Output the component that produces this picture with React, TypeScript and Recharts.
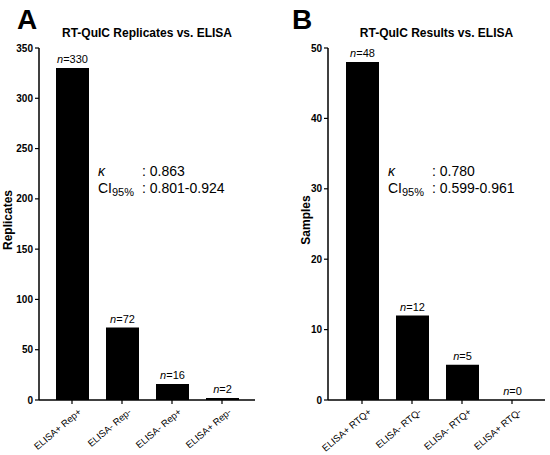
import React from "react";
import { BarChart, Bar, XAxis, YAxis, LabelList, Customized } from "recharts";

const categoriesA = ["ELISA+ Rep+", "ELISA- Rep-", "ELISA- Rep+", "ELISA+ Rep-"];
const replicates = [330, 72, 16, 2];
const ticksA = [0, 50, 100, 150, 200, 250, 300, 350];

const categoriesB = ["ELISA+ RTQ+", "ELISA- RTQ-", "ELISA- RTQ+", "ELISA+ RTQ-"];
const samples = [48, 12, 5, 0];
const ticksB = [0, 10, 20, 30, 40, 50];

const kappaA = "0.863";
const ciA = "0.801-0.924";
const kappaB = "0.780";
const ciB = "0.599-0.961";

const FONT = "'Liberation Sans', Arial, Helvetica, sans-serif";

const dataA = categoriesA.map((name, i) => ({ name, value: replicates[i] }));
const dataB = categoriesB.map((name, i) => ({ name, value: samples[i] }));

// rotated category labels, ending just under the tick
const XTick = (props: any) => {
  const { x, y, payload } = props;
  return (
    <g transform={`translate(${x + 10},${y + 7}) rotate(-40)`}>
      <text textAnchor="end" fontSize={9.5} fill="#000" fontFamily={FONT}>
        {payload.value}
      </text>
    </g>
  );
};

const NLabel = (props: any) => {
  const { x, y, width, value } = props;
  return (
    <text
      x={x + width / 2}
      y={y - 5}
      textAnchor="middle"
      fontSize={11}
      fill="#000"
      fontFamily={FONT}
    >
      <tspan fontStyle="italic">n</tspan>={value}
    </text>
  );
};

type PanelProps = {
  data: { name: string; value: number }[];
  ticks: number[];
  letter: string;
  title: string;
  yLabel: string;
  yLabelX: number;
  axisWidth: number;
  padLeft: number;
  padRight: number;
  marginRight: number;
  kappa: string;
  ci: string;
  noteX: number;
  colonX: number;
};

const Panel = (p: PanelProps) => {
  const plotLeft = p.axisWidth;
  const plotRight = 275 - p.marginRight;
  const overlay = () => (
    <g fontFamily={FONT} fill="#000">
      <text x={17} y={29} fontSize={28} fontWeight="bold">
        {p.letter}
      </text>
      <text
        x={(plotLeft + plotRight) / 2}
        y={37}
        fontSize={12}
        fontWeight="bold"
        textAnchor="middle"
      >
        {p.title}
      </text>
      <text
        transform={`translate(${p.yLabelX},220) rotate(-90)`}
        fontSize={12}
        fontWeight="bold"
        textAnchor="middle"
      >
        {p.yLabel}
      </text>
      <text x={p.noteX} y={176} fontSize={14} fontStyle="italic">
        κ
      </text>
      <text x={p.colonX} y={176} fontSize={14}>
        : {p.kappa}
      </text>
      <text x={p.noteX} y={193} fontSize={14}>
        CI
        <tspan fontSize={11} dy={3}>
          95%
        </tspan>
      </text>
      <text x={p.colonX} y={193} fontSize={14}>
        : {p.ci}
      </text>
    </g>
  );
  return (
    <BarChart
      width={275}
      height={455}
      data={p.data}
      margin={{ top: 48, right: p.marginRight, bottom: 0, left: 0 }}
    >
      <XAxis
        dataKey="name"
        height={55}
        interval={0}
        padding={{ left: p.padLeft, right: p.padRight }}
        tick={<XTick />}
        tickSize={4}
        axisLine={{ stroke: "#000", strokeWidth: 1.5 }}
        tickLine={{ stroke: "#000", strokeWidth: 1.2 }}
      />
      <YAxis
        width={p.axisWidth}
        domain={[0, p.ticks[p.ticks.length - 1]]}
        ticks={p.ticks}
        interval={0}
        tickSize={4}
        tick={{ fill: "#000", fontSize: 10, fontWeight: "bold", fontFamily: FONT }}
        axisLine={{ stroke: "#000", strokeWidth: 1.5 }}
        tickLine={{ stroke: "#000", strokeWidth: 1.2 }}
      />
      <Bar
        dataKey="value"
        fill="#000"
        barSize={33}
        minPointSize={0.01}
        isAnimationActive={false}
      >
        <LabelList dataKey="value" content={<NLabel />} />
      </Bar>
      <Customized component={overlay} />
    </BarChart>
  );
};

export default function App() {
  return (
    <div
      style={{
        position: "absolute",
        left: 0,
        top: 0,
        width: 550,
        height: 455,
        background: "#fff",
        display: "flex",
      }}
    >
      <Panel
        data={dataA}
        ticks={ticksA}
        letter="A"
        title="RT-QuIC Replicates vs. ELISA"
        yLabel="Replicates"
        yLabelX={12}
        axisWidth={39}
        padLeft={8}
        padRight={8}
        marginRight={20}
        kappa={kappaA}
        ci={ciA}
        noteX={98}
        colonX={142}
      />
      <Panel
        data={dataB}
        ticks={ticksB}
        letter="B"
        title="RT-QuIC Results vs. ELISA"
        yLabel="Samples"
        yLabelX={35}
        axisWidth={53}
        padLeft={9}
        padRight={8}
        marginRight={5}
        kappa={kappaB}
        ci={ciB}
        noteX={113}
        colonX={157}
      />
    </div>
  );
}
